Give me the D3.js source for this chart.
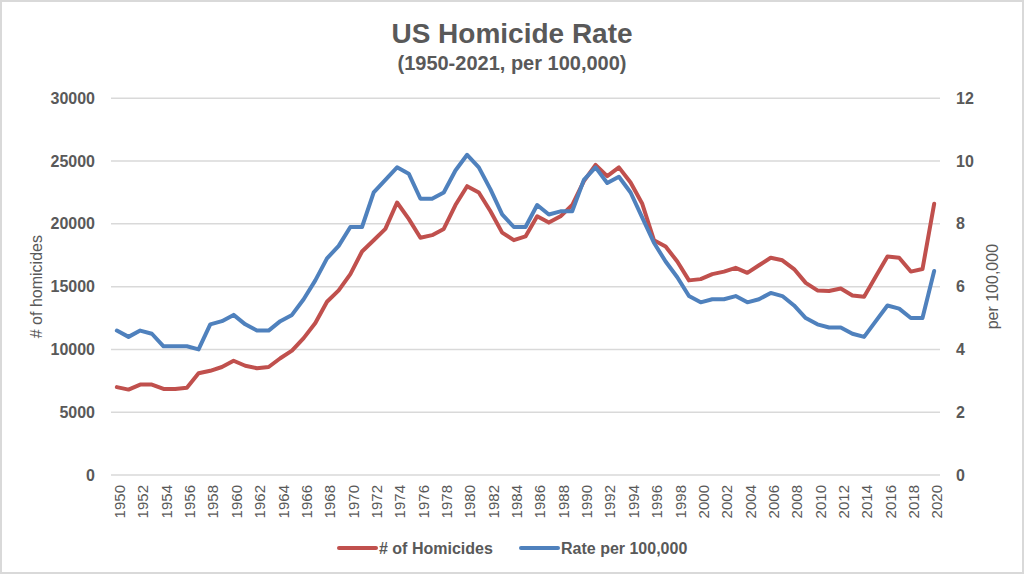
<!DOCTYPE html>
<html>
<head>
<meta charset="utf-8">
<script src="https://cdn.jsdelivr.net/npm/d3@7"></script>
<style>
  html, body { margin: 0; padding: 0; background: #fff; }
  svg { display: block; }
  text { font-family: "Liberation Sans", Arial, sans-serif; fill: #595959; }
</style>
</head>
<body>
<svg id="chart" width="1024" height="574"></svg>
<script>
const years = d3.range(1950, 2021);
const homicides = [
  7000, 6800, 7200, 7200, 6850, 6850, 6950, 8100, 8300, 8600,
  9100, 8700, 8500, 8600, 9300, 9900, 10900, 12100, 13800, 14700,
  16000, 17800, 18700, 19600, 21700, 20400, 18900, 19100, 19600, 21500,
  23000, 22500, 21000, 19300, 18700, 19000, 20600, 20100, 20600, 21500,
  23400, 24700, 23800, 24500, 23300, 21600, 18700, 18200, 17000, 15500,
  15600, 16000, 16200, 16500, 16100, 16700, 17300, 17100, 16400, 15300,
  14700, 14650, 14850, 14300, 14200, 15800, 17400, 17300, 16200, 16400,
  21600
];
const rates = [
  4.6, 4.4, 4.6, 4.5, 4.1, 4.1, 4.1, 4.0, 4.8, 4.9,
  5.1, 4.8, 4.6, 4.6, 4.9, 5.1, 5.6, 6.2, 6.9, 7.3,
  7.9, 7.9, 9.0, 9.4, 9.8, 9.6, 8.8, 8.8, 9.0, 9.7,
  10.2, 9.8, 9.1, 8.3, 7.9, 7.9, 8.6, 8.3, 8.4, 8.4,
  9.4, 9.8, 9.3, 9.5, 9.0, 8.2, 7.4, 6.8, 6.3, 5.7,
  5.5, 5.6, 5.6, 5.7, 5.5, 5.6, 5.8, 5.7, 5.4, 5.0,
  4.8, 4.7, 4.7, 4.5, 4.4, 4.9, 5.4, 5.3, 5.0, 5.0,
  6.5
];
const leftTicks = [0, 5000, 10000, 15000, 20000, 25000, 30000];
const rightTicks = [0, 2, 4, 6, 8, 10, 12];
const xTickYears = years.filter(y => y % 2 === 0);
const seriesNames = ["# of Homicides", "Rate per 100,000"];
const colors = ["#C0504D", "#4F81BD"];

const svg = d3.select("#chart");
const W = 1024, H = 574;
const m = { left: 111, right: 940, top: 98.3, bottom: 475 };

// outer border
svg.append("rect").attr("x", 1).attr("y", 1).attr("width", W - 2).attr("height", H - 2)
  .attr("fill", "#fff").attr("stroke", "#d9d9d9").attr("stroke-width", 2);

const x = d3.scaleBand().domain(years).range([m.left, m.right]).padding(0);
const xc = d => x(d) + x.bandwidth() / 2;
const yL = d3.scaleLinear().domain([0, 30000]).range([m.bottom, m.top]);
const yR = d3.scaleLinear().domain([0, 12]).range([m.bottom, m.top]);

// gridlines
svg.append("g").selectAll("line").data(leftTicks).join("line")
  .attr("x1", m.left).attr("x2", m.right)
  .attr("y1", d => yL(d)).attr("y2", d => yL(d))
  .attr("stroke", "#d9d9d9").attr("stroke-width", 1.5);

// left axis
const gL = svg.append("g").attr("transform", `translate(${m.left},0)`)
  .call(d3.axisLeft(yL).tickValues(leftTicks).tickSize(0).tickPadding(16).tickFormat(d3.format("d")));
gL.select(".domain").remove();
gL.selectAll("text").attr("font-size", 16).attr("font-weight", "bold").style("fill", "#595959")
  .attr("font-family", "Liberation Sans, Arial, sans-serif");

// right axis
const gR = svg.append("g").attr("transform", `translate(${m.right},0)`)
  .call(d3.axisRight(yR).tickValues(rightTicks).tickSize(0).tickPadding(16).tickFormat(d3.format("d")));
gR.select(".domain").remove();
gR.selectAll("text").attr("font-size", 16).attr("font-weight", "bold").style("fill", "#595959")
  .attr("font-family", "Liberation Sans, Arial, sans-serif");

// bottom axis
const gB = svg.append("g").attr("transform", `translate(0,${m.bottom})`)
  .call(d3.axisBottom(x).tickValues(xTickYears).tickSize(0).tickPadding(0));
gB.select(".domain").remove();
gB.selectAll("text")
  .attr("font-size", 15).style("fill", "#595959")
  .attr("font-family", "Liberation Sans, Arial, sans-serif")
  .attr("text-anchor", "end")
  .attr("transform", "rotate(-90)")
  .attr("x", -10).attr("y", 3).attr("dy", "0.35em");

// lines
const lineL = d3.line().x((d, i) => xc(years[i])).y(d => yL(d));
const lineR = d3.line().x((d, i) => xc(years[i])).y(d => yR(d));
svg.append("path").datum(homicides).attr("d", lineL)
  .attr("fill", "none").attr("stroke", colors[0]).attr("stroke-width", 4)
  .attr("stroke-linejoin", "round").attr("stroke-linecap", "round");
svg.append("path").datum(rates).attr("d", lineR)
  .attr("fill", "none").attr("stroke", colors[1]).attr("stroke-width", 4)
  .attr("stroke-linejoin", "round").attr("stroke-linecap", "round");

// titles
svg.append("text").attr("x", 512).attr("y", 43).attr("text-anchor", "middle")
  .attr("font-size", 28).attr("font-weight", "bold").text("US Homicide Rate");
svg.append("text").attr("x", 512).attr("y", 70).attr("text-anchor", "middle")
  .attr("font-size", 20).attr("font-weight", "bold").text("(1950-2021, per 100,000)");

// axis titles
svg.append("text").attr("transform", `translate(42,${(m.top + m.bottom) / 2}) rotate(-90)`)
  .attr("text-anchor", "middle").attr("font-size", 16).text("# of homicides");
svg.append("text").attr("transform", `translate(998,${(m.top + m.bottom) / 2}) rotate(-90)`)
  .attr("text-anchor", "middle").attr("font-size", 16).text("per 100,000");

// legend
const legend = svg.append("g");
const legX = [339, 521];
seriesNames.forEach((name, i) => {
  legend.append("line").attr("x1", legX[i]).attr("x2", legX[i] + 37)
    .attr("y1", 548).attr("y2", 548)
    .attr("stroke", colors[i]).attr("stroke-width", 4).attr("stroke-linecap", "round");
  legend.append("text").attr("x", legX[i] + 40).attr("y", 554)
    .attr("font-size", 16).attr("font-weight", "bold").text(name);
});
</script>
</body>
</html>
